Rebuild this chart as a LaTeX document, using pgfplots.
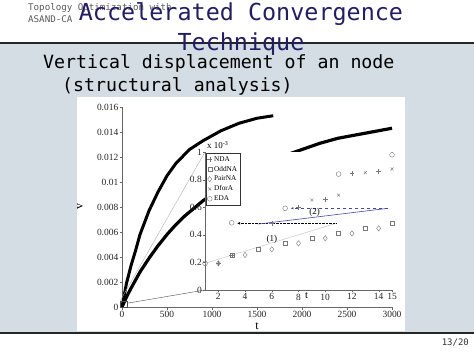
\documentclass[border=0pt]{standalone}
\usepackage{pgfplots}
\pgfplotsset{compat=1.18}
\usepackage{fontspec}
\setmainfont{Liberation Serif}
\setmonofont{DejaVu Sans Mono}
\usetikzlibrary{arrows.meta}
\definecolor{bodybg}{RGB}{211,221,227}
\definecolor{titleblue}{RGB}{35,30,100}
\definecolor{lineblue}{RGB}{70,70,170}
\definecolor{mkgray}{RGB}{120,120,120}
\begin{document}
\begin{tikzpicture}[x=1bp,y=1bp]
\useasboundingbox (0,0) rectangle (474,355);
\fill[white] (0,0) rectangle (474,355);
\fill[bodybg] (0,22) rectangle (474,312);
\fill[white] (77,24) rectangle (405,258);
\draw[black!85, line width=1.5bp] (0,312) -- (474,312);
\draw[black!85, line width=2bp] (0,22) -- (474,22);
% header
\node[anchor=base west, inner sep=0, font=\ttfamily\fontsize{9.2}{11}\selectfont, text=black!65] at (28,345) {Topology Optimization with};
\node[anchor=base west, inner sep=0, font=\ttfamily\fontsize{9.2}{11}\selectfont, text=black!65] at (28,333) {ASAND-CA};
\node[anchor=base, inner sep=0, font=\ttfamily\fontsize{23.5}{28}\selectfont, text=titleblue] at (241,334.5) {Accelerated Convergence};
\node[anchor=base, inner sep=0, font=\ttfamily\fontsize{23.5}{28}\selectfont, text=titleblue] at (241,304.5) {Technique};
\node[anchor=base west, inner sep=0, font=\ttfamily\fontsize{18.3}{22}\selectfont] at (43,287) {Vertical displacement of an node};
\node[anchor=base west, inner sep=0, font=\ttfamily\fontsize{18.3}{22}\selectfont] at (62,264) {(structural analysis)};
\node[anchor=base east, inner sep=0, font=\ttfamily\fontsize{9}{11}\selectfont, text=black!80] at (469,10) {13/20};
% main axis
\begin{axis}[
  at={(122bp,48bp)}, anchor=south west, scale only axis,
  width=270bp, height=200bp,
  xmin=0, xmax=3000, ymin=0, ymax=0.016, clip=false,
  axis x line*=bottom, axis y line*=left,
  axis line style={-, draw=black!60},
  tick align=outside, major tick length=2.5bp, tick style={black!60},
  xtick={0,500,1000,1500,2000,2500,3000},
  ytick={0,0.002,0.004,0.006,0.008,0.01,0.012,0.014,0.016},
  yticklabels={0,0.002,0.004,0.006,0.008,0.01,0.012,0.014,0.016},
  scaled x ticks=false, scaled y ticks=false,
  /pgf/number format/assume math mode=true,
  /pgf/number format/1000 sep={},
  tick label style={font=\fontsize{9.5}{11}\selectfont, text=black!85},
  yticklabel style={inner sep=1bp},
  xticklabel style={inner sep=1.5bp},
]
\addplot[black, line width=3bp, line join=round] coordinates {
 (0,0) (50,0.0019) (100,0.0033) (150,0.0045) (200,0.0058) (300,0.0077)
 (400,0.0092) (500,0.0105) (600,0.0115) (750,0.0126) (900,0.0133)
 (1100,0.0141) (1300,0.0147) (1500,0.0151) (1680,0.0153)};
\addplot[black, line width=3.2bp, line join=round] coordinates {
 (0,0) (50,0.0008) (100,0.0015) (200,0.0028) (300,0.0039) (400,0.0049)
 (500,0.0058) (600,0.0066) (700,0.0073) (800,0.0079) (900,0.0085)
 (1000,0.0090) (1200,0.0099) (1400,0.0107) (1600,0.0114) (1800,0.0121)
 (2000,0.0126) (2200,0.0131) (2400,0.0135) (2700,0.0139) (3000,0.0143)};
\addplot[black!70, thin] coordinates {(-20,-0.00005) (55,-0.00005) (55,0.0005) (-20,0.0005) (-20,-0.00005)};
\addplot[black!30, thin] coordinates {(-20,0.0005) (922,0.0124)};
\addplot[black!70, thin] coordinates {(55,0.0003) (922,0.00136)};
\end{axis}
\node[inner sep=0, font=\fontsize{12}{14}\selectfont, rotate=90] at (80,148) {v};
\node[inner sep=0, font=\fontsize{12}{14}\selectfont] at (257,29) {t};
% inset
\begin{axis}[
  at={(205bp,65bp)}, anchor=south west, scale only axis,
  width=187bp, height=138bp,
  xmin=1, xmax=15, ymin=0, ymax=1, clip=false,
  axis background/.style={fill=white},
  axis x line*=bottom, axis y line*=left,
  axis line style={-, draw=black!60},
  tick align=outside, major tick length=2bp, tick style={black!60},
  xtick={2,4,6,8,10,12,14,15},
  ytick={0,0.2,0.4,0.6,0.8,1},
  yticklabels={0,0.2,0.4,0.6,0.8,1},
  /pgf/number format/assume math mode=true,
  tick label style={font=\fontsize{9.5}{11}\selectfont, text=black!85},
  yticklabel style={inner sep=1bp},
  xticklabel style={inner sep=1.5bp},
  legend style={at={(0.005,0.993)}, anchor=north west, draw=black!80, fill=white,
    font=\fontsize{7.3}{8}\selectfont, inner sep=1.2bp, row sep=-0.6bp,
    cells={anchor=west}},
  every axis plot/.append style={mark size=2.3bp, thin},
]
\addplot[only marks, mark=+, mkgray] coordinates {(2,0.193) (3,0.254) (6,0.483) (8,0.60) (10,0.657) (12,0.845) (14,0.86)};
\addlegendentry{NDA}
\addplot[only marks, mark=square, mkgray, mark size=2bp] coordinates {(3,0.254) (5,0.295) (7,0.338) (9,0.375) (11,0.41) (13,0.447) (15,0.483)};
\addlegendentry{OddNA}
\addplot[only marks, mark=diamond, mkgray, mark size=2.7bp] coordinates {(2,0.193) (4,0.254) (6,0.295) (8,0.338) (10,0.375) (12,0.41) (14,0.447)};
\addlegendentry{PairNA}
\addplot[only marks, mark=x, mkgray, mark size=2bp] coordinates {(9,0.652) (11,0.688) (13,0.85) (15,0.877)};
\addlegendentry{DforA}
\addplot[only marks, mark=o, mkgray, mark size=2.4bp] coordinates {(1,0.193) (3,0.487) (7,0.592) (11,0.84) (15,0.98)};
\addlegendentry{EDA}
\addplot[forget plot, black!25, thin] coordinates {(1,0.193) (10.8,0.483)};
\addplot[forget plot, black, densely dotted, -{Latex[length=3bp,width=2.5bp]}] coordinates {(10.8,0.483) (3.4,0.483)};
\addplot[forget plot, lineblue, semithick] coordinates {(5,0.478) (14.7,0.592)};
\addplot[forget plot, lineblue, semithick, dashed, -{Latex[length=3bp,width=2.5bp]}] coordinates {(14.7,0.592) (7.4,0.592)};
\node[font=\fontsize{9}{10}\selectfont] at (axis cs:6,0.37) {(1)};
\node[font=\fontsize{9}{10}\selectfont] at (axis cs:9.2,0.565) {(2)};
\node[anchor=south west, inner sep=0, font=\fontsize{9}{10}\selectfont] at (rel axis cs:0.01,1.02) {x 10\textsuperscript{-3}};
\node[anchor=north, inner sep=0, font=\fontsize{10.5}{11}\selectfont] at (axis cs:8.6,-0.02) {t};
\end{axis}
\end{tikzpicture}
\end{document}
